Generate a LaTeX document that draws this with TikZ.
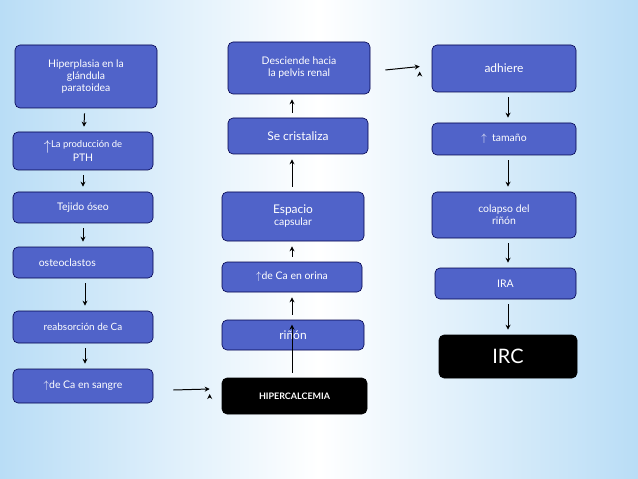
\documentclass[tikz,border=0pt]{standalone}
\usepackage{fontspec}
\setmainfont{Lato}
\usetikzlibrary{arrows.meta}
\definecolor{boxblue}{HTML}{5063C9}
\definecolor{bgblue}{HTML}{B9DDF6}
\tikzset{
 bx/.style={draw=black!70!blue, line width=0.6pt, fill=boxblue, rounded corners=5bp, text=white, align=center, inner sep=1bp, font=\fontsize{10.5}{12}\selectfont},
 blk/.style={bx, fill=black, draw=black},
 ar/.style={-{Stealth[length=5bp,width=5bp]}, line width=1pt, shorten >=5bp, shorten <=5bp}
}
\newcommand{\bxat}[6]{\node[#1, minimum width={(#4-#3)*1bp}, minimum height={(#6-#5)*1bp}] (#2) at ({(#3+#4)/2},{(#5+#6)/2}) }
\begin{document}
\begin{tikzpicture}[x=1bp,y=-1bp]
\shade[left color=bgblue, right color=bgblue, middle color=white] (0,0) rectangle (638,479);
\useasboundingbox (0,0) rectangle (638,479);
\bxat{bx}{a1}{15}{157}{45}{108}{Hiperplasia en la\\glándula\\paratoidea};
\bxat{bx}{a2}{13}{153}{132}{170}{\raisebox{-3pt}{\fontsize{14}{14}\selectfont$\uparrow$}\fontsize{9.5}{11}\selectfont La producción de\\PTH};
\bxat{bx}{a3}{13}{153}{192}{223}{Tejido óseo};
\bxat{bx}{a4}{13}{153}{247}{278}{osteoclastos\hspace*{3em}};
\bxat{bx}{a5}{13}{153}{311}{343}{\fontsize{10}{12}\selectfont reabsorción de Ca};
\bxat{bx}{a6}{13}{153}{369}{403}{$\uparrow$de Ca en sangre};
\bxat{bx}{b1}{228}{370}{42}{94}{Desciende hacia\\la pelvis renal};
\bxat{bx}{b2}{228}{368}{118}{154}{\fontsize{12}{14}\selectfont Se cristaliza};
\bxat{bx}{b3}{222}{364}{192}{241}{\fontsize{12}{14}\selectfont Espacio\\capsular};
\bxat{bx}{b4}{222}{362}{262}{292}{$\uparrow$de Ca en orina};
\bxat{bx}{b5}{222}{364}{320}{350}{\fontsize{12}{14}\selectfont riñón};
\bxat{blk}{b6}{222}{367}{378}{414}{\bfseries\fontsize{9}{11}\selectfont HIPERCALCEMIA};
\bxat{bx}{c1}{432}{576}{45}{92}{\fontsize{12}{14}\selectfont adhiere};
\bxat{bx}{c2}{432}{576}{123}{155}{$\uparrow$\ \ tamaño};
\bxat{bx}{c3}{432}{576}{192}{238}{colapso del\\riñón};
\bxat{bx}{c4}{435}{576}{268}{299}{IRA};
\bxat{blk}{c5}{439}{577}{335}{378}{\fontsize{20}{22}\selectfont IRC};
\draw[ar] (a1) -- (a2);
\draw[ar] (a2) -- (a3);
\draw[ar] (a3) -- (a4);
\draw[ar] (a4.south -| 85,0) -- (a5.north -| 85,0);
\draw[ar] (a5.south -| 85,0) -- (a6.north -| 85,0);
\draw[ar] (a6.east) ++(20,4) coordinate (s1) (b6.west) ++(-12,-7) coordinate (s2);
\draw[ar, shorten <=0pt, shorten >=0pt] (s1) -- (s2);
\draw[ar] (b6.north -| 292,0) -- (b5.north -| 292,0) ;
\draw[ar] (b5.north -| 292,0) -- (b4.south -| 292,0);
\draw[ar] (b4.north -| 292,0) -- (b3.south -| 292,0);
\draw[ar] (b3.north -| 292,0) -- (b2.south -| 292,0);
\draw[ar] (b2.north -| 292,0) -- (b1.south -| 292,0);
\draw[ar] (b1.east) ++(15,2) coordinate (s3) (c1.west) ++(-12,-2) coordinate (s4);
\draw[ar, shorten <=0pt, shorten >=0pt] (s3) -- (s4);
\draw[ar] (c1.south -| 508,0) -- (c2.north -| 508,0);
\draw[ar] (c2.south -| 508,0) -- (c3.north -| 508,0);
\draw[ar] (c3.south -| 508,0) -- (c4.north -| 508,0);
\draw[ar] (c4.south -| 508,0) -- (c5.north -| 508,0);
\end{tikzpicture}
\end{document}
